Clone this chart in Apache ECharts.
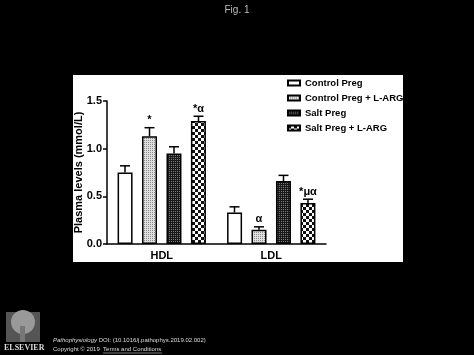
<!DOCTYPE html>
<html>
<head>
<meta charset="utf-8">
<script src="https://cdn.jsdelivr.net/npm/echarts@6/dist/echarts.min.js"></script>
<style>
  html, body { margin: 0; padding: 0; background: #000; }
  #chart { width: 474px; height: 355px; }
</style>
</head>
<body>
<div id="chart"></div>
<script>
// data
var categories = ['HDL', 'LDL'];
var groups = ['Control Preg', 'Control Preg + L-ARG', 'Salt Preg', 'Salt Preg + L-ARG'];
var controlPreg = [0.75, 0.33];
var controlPregLarg = [1.13, 0.15];
var saltPreg = [0.95, 0.66];
var saltPregLarg = [1.29, 0.43];
var controlPregErr = [0.07, 0.06];
var controlPregLargErr = [0.09, 0.03];
var saltPregErr = [0.07, 0.06];
var saltPregLargErr = [0.05, 0.04];
var marks = [['', '*', '', '*\u03b1'], ['', '\u03b1', '', '*\u03bc\u03b1']];
var yTicks = [0, 0.5, 1.0, 1.5];

var means = [controlPreg, controlPregLarg, saltPreg, saltPregLarg];
var errs = [controlPregErr, controlPregLargErr, saltPregErr, saltPregLargErr];

// fill patterns
function makePattern(size, draw) {
  var c = document.createElement('canvas');
  c.width = size; c.height = size;
  var g = c.getContext('2d');
  draw(g);
  return { image: c, repeat: 'repeat' };
}
var fills = [
  '#ffffff',
  makePattern(2, function (g) {
    g.fillStyle = '#e0e0e0'; g.fillRect(0, 0, 2, 2);
    g.fillStyle = '#8a8a8a'; g.fillRect(0, 0, 1, 1);
  }),
  makePattern(2, function (g) {
    g.fillStyle = '#1a1a1a'; g.fillRect(0, 0, 2, 2);
    g.fillStyle = '#777'; g.fillRect(1, 1, 1, 1);
  }),
  makePattern(6, function (g) {
    g.fillStyle = '#fff'; g.fillRect(0, 0, 6, 6);
    g.fillStyle = '#111'; g.fillRect(0, 0, 3, 3); g.fillRect(3, 3, 3, 3);
  })
];

var series = groups.map(function (name, k) {
  return {
    name: name,
    type: 'bar',
    data: means[k],
    barWidth: 15,
    barGap: '63%',
    itemStyle: { color: fills[k], borderColor: '#000', borderWidth: 1.5 },
    emphasis: { disabled: true }
  };
});

var errData = [];
for (var c = 0; c < categories.length; c++) {
  for (var k = 0; k < groups.length; k++) {
    errData.push([c, k, means[k][c], errs[k][c]]);
  }
}

series.push({
  type: 'custom',
  data: errData,
  z: 5,
  renderItem: function (params, api) {
    var cat = api.value(0), k = api.value(1), mean = api.value(2), err = api.value(3);
    var base = api.coord([cat, mean]);
    var top = api.coord([cat, mean + err]);
    var x = base[0] + (k - 1.5) * 24.5;
    var kids = [
      { type: 'line', shape: { x1: x, y1: base[1], x2: x, y2: top[1] }, style: { stroke: '#000', lineWidth: 1.5 } },
      { type: 'line', shape: { x1: x - 5, y1: top[1], x2: x + 5, y2: top[1] }, style: { stroke: '#000', lineWidth: 1.5 } }
    ];
    var m = marks[cat][k];
    if (m) {
      kids.push({
        type: 'text',
        style: { text: m, x: x, y: top[1] - 2, align: 'center', verticalAlign: 'bottom',
          font: 'bold 11px "Liberation Sans", Arial', fill: '#000' }
      });
    }
    return { type: 'group', children: kids };
  }
});

var chart = echarts.init(document.getElementById('chart'));
chart.setOption({
  backgroundColor: '#000',
  animation: false,
  textStyle: { fontFamily: '"Liberation Sans", Arial' },
  grid: { left: 107, top: 101, right: 148, bottom: 111 },
  legend: {
    data: groups,
    orient: 'vertical',
    left: 282,
    top: 73,
    icon: 'rect',
    itemWidth: 12,
    itemHeight: 5,
    itemGap: 5,
    textStyle: { color: '#000', fontWeight: 'bold', fontSize: 9.5 }
  },
  xAxis: {
    type: 'category',
    data: categories,
    axisLine: { lineStyle: { color: '#000', width: 1.5 } },
    axisTick: { alignWithLabel: true, length: 4, lineStyle: { color: '#000', width: 1.5 } },
    axisLabel: { color: '#000', fontWeight: 'bold', fontSize: 11, margin: 6 }
  },
  yAxis: {
    type: 'value',
    min: yTicks[0],
    max: yTicks[yTicks.length - 1],
    interval: 0.5,
    name: 'Plasma levels (mmol/L)',
    nameLocation: 'middle',
    nameGap: 23,
    nameMoveOverlap: false,
    nameTextStyle: { color: '#000', fontWeight: 'bold', fontSize: 11 },
    splitLine: { show: false },
    axisLine: { show: true, lineStyle: { color: '#000', width: 1.5 } },
    axisTick: { show: true, length: 4, lineStyle: { color: '#000', width: 1.5 } },
    axisLabel: { color: '#000', fontWeight: 'bold', fontSize: 11, margin: 5,
      formatter: function (v) { return v.toFixed(1); } }
  },
  graphic: [
    { type: 'rect', z: -10, shape: { x: 73, y: 75, width: 330, height: 187 }, style: { fill: '#fff' } },
    { type: 'text', left: 'center', top: 5, style: { text: 'Fig. 1', fill: '#bbb', font: '10px "Liberation Sans", Arial' } },
    // Elsevier logo (rough)
    { type: 'rect', shape: { x: 6, y: 312, width: 34, height: 30 }, style: { fill: '#555' } },
    { type: 'circle', shape: { cx: 23, cy: 322, r: 12 }, style: { fill: '#999' } },
    { type: 'rect', shape: { x: 20, y: 326, width: 5, height: 16 }, style: { fill: '#777' } },
    { type: 'text', left: 4, top: 344, style: { text: 'ELSEVIER', fill: '#ddd', font: 'bold 8px "Liberation Serif", serif' } },
    { type: 'text', left: 53, top: 337, style: {
      text: '{i|Pathophysiology} DOI: (10.1016/j.pathophys.2019.02.002)',
      fill: '#ddd', font: '6px "Liberation Sans", Arial',
      rich: { i: { fontStyle: 'italic', fontSize: 6, fill: '#ddd' } } } },
    { type: 'text', left: 53, top: 346, style: {
      text: 'Copyright \u00a9 2019  {u|Terms and Conditions}',
      fill: '#ddd', font: '6px "Liberation Sans", Arial',
      rich: { u: { fontSize: 6, fill: '#ddd' } } } },
    { type: 'line', shape: { x1: 103, y1: 353, x2: 162, y2: 353 }, style: { stroke: '#ccc', lineWidth: 0.6 } }
  ],
  series: series
});
</script>
</body>
</html>
